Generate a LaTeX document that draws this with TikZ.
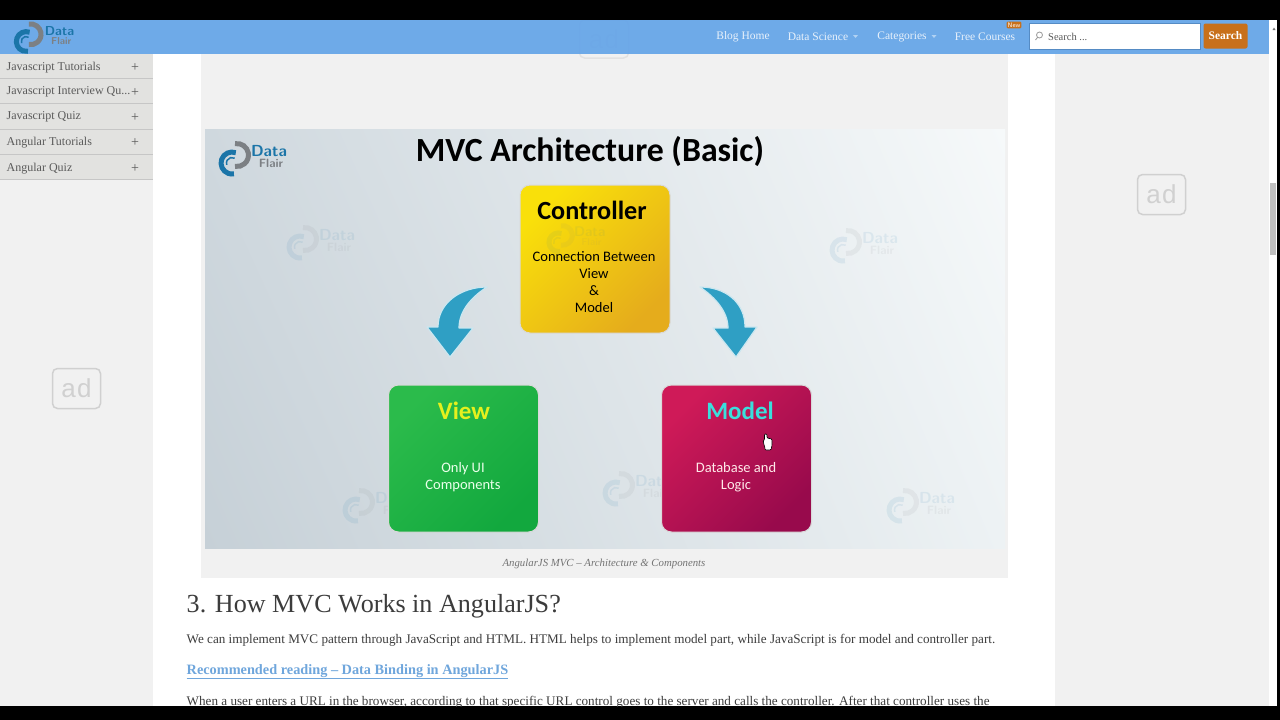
\documentclass[tikz,border=0pt]{standalone}
\usepackage{fontspec}
\setmainfont{Liberation Serif}
\newfontfamily\slidefont{Carlito}
\newfontfamily\adfont{Liberation Sans}
\usetikzlibrary{positioning,shadings}

\definecolor{navblue}{HTML}{64A4E7}
\definecolor{panelgrey}{HTML}{F1F1F1}
\definecolor{itemgrey}{HTML}{E2E2E0}
\definecolor{itemline}{HTML}{C6C6C6}
\definecolor{itemtext}{HTML}{5A5A5A}
\definecolor{arrowblue}{HTML}{2F9FC4}
\definecolor{logoblue}{HTML}{1B75A8}
\definecolor{logogrey}{HTML}{7C8084}
\definecolor{linkblue}{HTML}{6FA6DC}
\definecolor{bodytext}{HTML}{3C3C3C}
\definecolor{adgrey}{HTML}{D0D0D0}
\definecolor{btnorange}{HTML}{C8701A}
\definecolor{ctrlyellow}{HTML}{F9E00A}
\definecolor{ctrlorange}{HTML}{E5AC1C}
\definecolor{viewlight}{HTML}{2BBB4B}
\definecolor{viewdark}{HTML}{12A83E}
\definecolor{modellight}{HTML}{CF1A58}
\definecolor{modeldark}{HTML}{980A4C}
\definecolor{modelcyan}{HTML}{3ADFDC}
\definecolor{viewyellow}{HTML}{E5F01E}
\definecolor{slideUL}{HTML}{CFD8DE}
\definecolor{slideLL}{HTML}{C6D0D7}
\definecolor{slideLR}{HTML}{EDF2F4}
\definecolor{slideUR}{HTML}{F6F9FA}

\newcommand\dfdata{16}
\newcommand\dfflair{12}

\tikzset{
  mvcbox/.style={draw=white!85!black,line width=1pt,rounded corners=10pt,minimum width=150pt,minimum height=148pt,inner sep=0pt},
  diagshade/.style={shading angle=45},
  boxtitle/.style={font=\slidefont\bfseries\fontsize{25}{25}\selectfont,inner sep=0pt},
  boxbody/.style={font=\slidefont\fontsize{14.5}{17}\selectfont,align=center,inner sep=0pt},
  sideitem/.style={font=\fontsize{12}{12}\selectfont,text=itemtext,anchor=west,inner sep=0pt},
  sideplus/.style={font=\fontsize{14}{14}\selectfont,text=itemtext,inner sep=0pt},
  navitem/.style={font=\fontsize{11.5}{12}\selectfont,text=white!85!navblue,inner sep=0pt},
  bodyline/.style={font=\fontsize{13.15}{14}\selectfont,text=bodytext,anchor=west,inner sep=0pt},
  adtext/.style={draw=adgrey,line width=1.5pt,rounded corners=5pt,text=adgrey,font=\adfont\fontsize{26}{26}\selectfont,minimum width=48pt,minimum height=40pt,inner sep=0pt},
  bluearrow/.style={fill=arrowblue,draw=arrowblue!25!white,line width=1.2pt,line join=round},
  dflogo/.pic={
    \draw[logoblue,line width=5pt] (1.8,-5.3) arc (-70:-280:11);
    \draw[logoblue,line width=1.5pt] (0.7,0.2) arc (-60:-200:5.5);
    \draw[logogrey,line width=5pt] (1,-14.3) arc (-100:100:11.5);
    \node[font=\sffamily\bfseries\fontsize{\dfdata}{\dfdata}\selectfont,text=logoblue,inner sep=0pt] (logodata) at (35,-7) {Data};
    \node[font=\sffamily\bfseries\fontsize{\dfflair}{\dfflair}\selectfont,text=logogrey,inner sep=0pt] (logoflair) at (37,5) {Flair};
  }
}

\begin{document}
\begin{tikzpicture}[x=1pt,y=-1pt,on grid]
  \useasboundingbox (0,0) rectangle (1280,720);
  \fill[white] (0,0) rectangle (1280,720);

  % page columns
  \fill[panelgrey] (0,54) rectangle (153,706);
  \fill[panelgrey] (1055,54) rectangle (1269,706);
  \fill[panelgrey] (201,54) rectangle (1008,578);
  \fill[black!25] (1270,183) rectangle (1276,255);

  % slide
  \shade[lower left=slideLL,upper left=slideUL,lower right=slideLR,upper right=slideUR] (205,129) rectangle (1005,548);
  \node[font=\slidefont\bfseries\fontsize{33.8}{34}\selectfont,inner sep=0pt] (slidetitle) at (590,151.5) {MVC Architecture (Basic)};
  \pic at (234,158) {dflogo};

  % watermarks
  \foreach \wx/\wy in {302/242,845/245,358/505,618/488,902/505}
    \pic[opacity=.09] at (\wx,\wy) {dflogo};

  % boxes
  \node[mvcbox,left color=ctrlyellow,right color=ctrlorange,diagshade] (controller) at (595,259) {};
  \node[mvcbox,below left=199.5pt and 131.5pt of controller,minimum height=147pt,left color=viewlight,right color=viewdark,diagshade] (view) {};
  \node[mvcbox,below right=199.5pt and 141.5pt of controller,minimum height=147pt,left color=modellight,right color=modeldark,diagshade] (model) {};
  \begin{scope}
    \renewcommand\dfdata{14}
    \renewcommand\dfflair{10}
    \pic[opacity=.07,scale=.85] at (560,238) {dflogo};
  \end{scope}

  \node[boxtitle,font=\slidefont\bfseries\fontsize{26.2}{26}\selectfont] (controllertitle) at (592,210.5) {Controller};
  \node[boxbody] (controllerbody) at (594,282) {Connection Between\\View\\\&\\Model};
  \node[boxtitle,text=viewyellow] (viewtitle) at (464,411) {View};
  \node[boxbody,text=white!92!green] (viewbody) at (463,477) {Only UI\\Components};
  \node[boxtitle,text=modelcyan] (modeltitle) at (740,411) {Model};
  \node[boxbody,text=white!65!pink] (modelbody) at (736,477) {Database and\\Logic};

  % curved arrows
  \path[bluearrow] (487,287) .. controls (462,287) and (438,302) .. (438,327) -- (427,327) -- (450,357) -- (473,328) -- (459,328) .. controls (459,312) and (470,298) .. (487,287) -- cycle;
  \path[bluearrow] (700,287) .. controls (725,287) and (745,302) .. (745,327) -- (757,327) -- (736,357) -- (713,328) -- (728,328) .. controls (728,312) and (716,298) .. (700,287) -- cycle;

  % cursor
  \draw[black,fill=white,line width=.6pt,rounded corners=1pt] (765,448) -- (763,441) -- (764.5,440) -- (764.5,434) -- (767,434) -- (767,438) -- (772,439) -- (772,445) -- (771,450) -- (765,450) -- cycle;

  % ad boxes
  \node[adtext] (adleft) at (76.5,388.5) {a\kern1.5pt d};
  \node[adtext] (adright) at (1161.5,194.5) {a\kern1.5pt d};
  \node[adtext,opacity=.45,minimum width=49pt,minimum height=38pt] (adtop) at (604,39) {a\kern1.5pt d};

  % side menu
  \fill[itemgrey] (0,54) rectangle (153,179);
  \foreach \ly in {78,103,129,154,179}
    \draw[itemline,line width=1pt] (0,\ly) -- (153,\ly);
  \foreach \ly/\lname in {66/Javascript Tutorials,91/Javascript Interview Qu.\kern0pt.\kern0pt.,116/Javascript Quiz,141/Angular Tutorials,167/Angular Quiz}{
    \node[sideitem] (item\ly) at (6.5,\ly+1.2) {\lname};
    \node[sideplus] (plus\ly) at (135,\ly+2) {+};
  }

  % top bars
  \fill[navblue,fill opacity=.93] (0,20) rectangle (1269,54);
  \fill[black] (0,0) rectangle (1280,20);
  \fill[black] (0,706) rectangle (1280,720);
  \fill[black] (1277,20) rectangle (1280,706);
  \fill[black!55] (1272.5,30) -- (1275.5,30) -- (1274,27.5) -- cycle;
  \begin{scope}
    \renewcommand\dfdata{13}
    \renewcommand\dfflair{10}
    \pic[scale=.9] at (28,37) {dflogo};
  \end{scope}
  \node[navitem] (navhome) at (743,37) {Blog Home};
  \node[navitem] (navscience) at (818,37) {Data Science};
  \node[navitem] (navcats) at (902,37) {Categories};
  \node[navitem] (navcourses) at (985,37) {Free Courses};
  \fill[white!50!navblue] (853,35) -- (858,35) -- (855.5,38) -- cycle;
  \fill[white!50!navblue] (931.5,35) -- (936.5,35) -- (934,38) -- cycle;
  \node[fill=btnorange,rounded corners=1pt,text=white,font=\sffamily\fontsize{6.5}{7}\selectfont,inner sep=1pt] (newtag) at (1014,25) {New};
  \node[draw=navblue!85!black,fill=white,line width=1pt,minimum width=171pt,minimum height=26pt,inner sep=0pt] (searchbox) at (1115,36) {};
  \node[font=\fontsize{10.5}{11}\selectfont,text=black!65,anchor=west,inner sep=0pt] (searchtext) at (1048,36.5) {Search ...};
  \draw[black!40,line width=.8pt] (1039.5,35) circle (3) (1037.5,37.5) -- (1035.5,40);
  \node[fill=btnorange,rounded corners=2pt,text=white,font=\bfseries\fontsize{11.5}{12}\selectfont,minimum width=44pt,minimum height=25pt,inner sep=0pt] (searchbtn) at (1225.5,36) {Search};

  % article text
  \node[font=\itshape\fontsize{10.8}{11}\selectfont,text=black!55,inner sep=0pt] (caption) at (604,563.5) {AngularJS MVC -- Architecture \& Components};
  \node[font=\fontsize{26.1}{27}\selectfont,text=bodytext,anchor=west,inner sep=0pt] (heading) at (186.5,606) {3. How MVC Works in AngularJS?};
  \node[bodyline] (para) at (186.5,640) {We can implement MVC pattern through JavaScript and HTML. HTML helps to implement model part, while JavaScript is for model and controller part.};
  \node[bodyline,font=\bfseries\fontsize{14.3}{14}\selectfont,text=linkblue] (reading) at (186.5,671) {Recommended reading -- Data Binding in AngularJS};
  \draw[linkblue,line width=1pt] ([yshift=-1pt]reading.south west) -- ([yshift=-1pt]reading.south east);
  \begin{scope}
    \clip (0,690) rectangle (1277,706);
    \node[bodyline] (para2) at (186.5,702.5) {When a user enters a URL in the browser, according to that specific URL control goes to the server and calls the controller. After that controller uses the};
  \end{scope}
\end{tikzpicture}
\end{document}
